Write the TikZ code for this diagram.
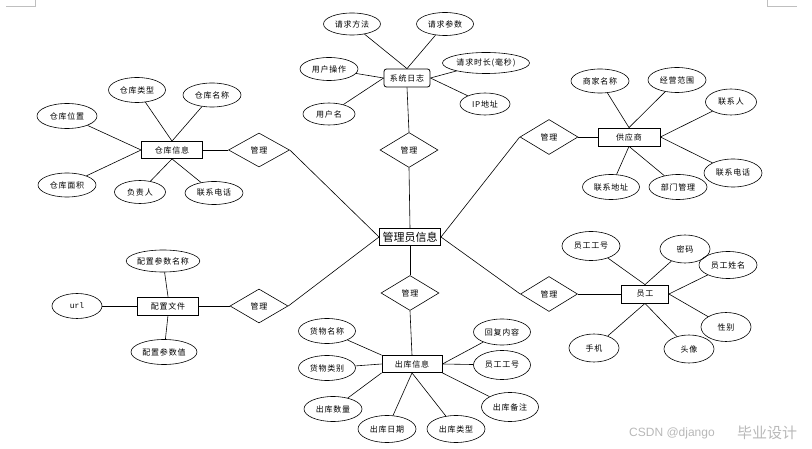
\documentclass[tikz,border=0pt]{standalone}
\usepackage{fontspec}
\setmainfont{Liberation Sans}
\newfontfamily\cjk{Noto Sans CJK SC}
\newfontfamily\cjksp[LetterSpace=10]{Noto Sans CJK SC}
\newfontfamily\monof{Liberation Mono}
\usetikzlibrary{shapes.geometric}
\tikzset{
  attr/.style 2 args={ellipse, draw, line width=0.6pt, inner sep=0pt,
    minimum width=#1, minimum height=#2, font=\cjksp\fontsize{8}{9}\selectfont},
  ent/.style={rectangle, draw, line width=0.8pt, inner sep=0pt,
    minimum width=61, minimum height=17, font=\cjksp\fontsize{8}{9}\selectfont},
  rel/.style={diamond, draw, line width=0.6pt, inner sep=0pt, aspect=1.66,
    minimum width=58, minimum height=35, font=\cjksp\fontsize{8}{9}\selectfont},
  conn/.style={draw, line width=0.6pt},
  cornermark/.style={draw=black!25, line width=0.6pt},
  wm/.style={text=black!28, inner sep=0pt}
}
\begin{document}
\begin{tikzpicture}[x=1pt,y=-1pt]
\useasboundingbox (0,0) rectangle (812,449);
% corner marks
\coordinate (cl1) at (6,6.5); \coordinate (cl2) at (35,6.5); \coordinate (cl3) at (35,0);
\draw[cornermark] (cl1) -- (cl2) -- (cl3);
\coordinate (cr1) at (797,6.5); \coordinate (cr2) at (767,6.5); \coordinate (cr3) at (767,0);
\draw[cornermark] (cr1) -- (cr2) -- (cr3);

% central entity
\node[ent, minimum width=61, minimum height=17, line width=1pt, font=\cjk\fontsize{11}{12}\selectfont] (admin) at (410,237) {管理员信息};

% system log
\node[ent, rounded corners=2.5pt, minimum width=46, minimum height=18] (log) at (407,78) {系统日志};
\node[attr={57}{22}] (lm) at (352,24) {请求方法};
\node[attr={57}{23}] (lp) at (445,24) {请求参数};
\node[attr={87}{21}] (lt) at (486,63) {请求时长(毫秒)};
\node[attr={58}{23}] (lo) at (329,69) {用户操作};
\node[attr={50}{22}] (lip) at (485,104) {IP地址};
\node[attr={52}{22}] (lu) at (329,114) {用户名};
\node[rel] (dlog) at (409,150) {管理};
\draw[conn] (lm) -- (log.north);
\draw[conn] (lp) -- (log.north);
\draw[conn] (lo) -- (log.west);
\draw[conn] (lu) -- (log.west);
\draw[conn] (lt) -- (log.east);
\draw[conn] (lip) -- (log.east);
\draw[conn] (log.south) -- (dlog.north);
\draw[conn] (dlog.south) -- (admin.north);

% warehouse
\node[ent] (wh) at (172,150) {仓库信息};
\node[attr={57}{25}] (wtype) at (137,90) {仓库类型};
\node[attr={58}{24}] (wname) at (212,95) {仓库名称};
\node[attr={60}{25}] (wpos) at (67,116) {仓库位置};
\node[attr={58}{24}] (warea) at (67,185) {仓库面积};
\node[attr={51}{23}] (wresp) at (140,192) {负责人};
\node[attr={58}{23}] (wtel) at (214,193) {联系电话};
\node[rel, minimum width=61, minimum height=34] (dw) at (259,150) {管理};
\draw[conn] (wtype) -- (wh.north);
\draw[conn] (wname) -- (wh.north);
\draw[conn] (wpos) -- (wh.west);
\draw[conn] (warea) -- (wh.west);
\draw[conn] (wresp) -- (wh.south);
\draw[conn] (wtel) -- (wh.south);
\draw[conn] (wh.east) -- (dw.west);
\draw[conn] (dw.east) -- (admin.west);

% supplier
\node[ent, minimum width=62, minimum height=18] (sup) at (629,137) {供应商};
\node[attr={58}{24}] (sname) at (600,81) {商家名称};
\node[attr={58}{25}] (srange) at (677,80) {经营范围};
\node[attr={51}{26}] (scont) at (731,102) {联系人};
\node[attr={58}{28}] (stel) at (733,173) {联系电话};
\node[attr={57}{25}] (saddr) at (611,187) {联系地址};
\node[attr={58}{25}] (sdept) at (678,187) {部门管理};
\node[rel] (ds) at (549,137) {管理};
\draw[conn] (sname) -- (sup.north);
\draw[conn] (srange) -- (sup.north);
\draw[conn] (scont) -- (sup.east);
\draw[conn] (stel) -- (sup.east);
\draw[conn] (saddr) -- (sup.south);
\draw[conn] (sdept) -- (sup.south);
\draw[conn] (ds.east) -- (sup.west);
\draw[conn] (admin.east) -- (ds.west);

% config file
\node[ent, minimum height=18] (cfg) at (168,306) {配置文件};
\node[attr={50}{25}, font=\monof\fontsize{8}{9}\selectfont] (url) at (77,306) {url};
\node[attr={68}{22}] (pname) at (163,261) {配置参数名称};
\node[attr={66}{25}] (pval) at (164,352) {配置参数值};
\node[rel, minimum height=34] (dc) at (259,306) {管理};
\draw[conn] (url) -- (cfg.west);
\draw[conn] (pname) -- (cfg.north);
\draw[conn] (pval) -- (cfg.south);
\draw[conn] (cfg.east) -- (dc.west);
\draw[conn] (dc.east) -- (admin.west);

% outbound
\node[ent, minimum width=60] (out) at (412,364) {出库信息};
\node[rel] (dout) at (410,293) {管理};
\node[attr={57}{25}] (gname) at (327,331) {货物名称};
\node[attr={57}{25}] (gcat) at (327,368) {货物类别};
\node[attr={58}{25}] (onum) at (333,409) {出库数量};
\node[attr={58}{27}] (odate) at (387,429) {出库日期};
\node[attr={58}{27}] (otype) at (456,429) {出库类型};
\node[attr={57}{29}] (onote) at (510,407) {出库备注};
\node[attr={57}{29}] (oemp) at (502,365) {员工工号};
\node[attr={57}{26}] (oreply) at (502,332) {回复内容};
\draw[conn] (admin.south) -- (dout.north);
\draw[conn] (dout.south) -- (out.north);
\draw[conn] (gname) -- (out.north west);
\draw[conn] (gcat) -- (out.west);
\draw[conn] (onum) -- (out.south west);
\draw[conn] (odate) -- (out.south);
\draw[conn] (otype) -- (out.south);
\draw[conn] (onote) -- (out.south east);
\draw[conn] (oemp) -- (out.east);
\draw[conn] (oreply) -- (out.east);

% employee
\node[ent, minimum width=47, minimum height=18] (emp) at (645,294) {员工};
\node[rel, minimum width=57] (de) at (549,294) {管理};
\node[attr={58}{29}] (eid) at (591,246) {员工工号};
\node[attr={50}{28}] (epw) at (685,249) {密码};
\node[attr={58}{27}] (ename) at (728,265) {员工姓名};
\node[attr={50}{29}] (esex) at (726,327) {性别};
\node[attr={50}{28}] (eava) at (689,349) {头像};
\node[attr={50}{28}] (etel) at (594,348) {手机};
\draw[conn] (eid) -- (emp.north);
\draw[conn] (epw) -- (emp.north);
\draw[conn] (ename) -- (emp.east);
\draw[conn] (esex) -- (emp.east);
\draw[conn] (eava) -- (emp.south);
\draw[conn] (etel) -- (emp.south);
\draw[conn] (de.east) -- (emp.west);
\draw[conn] (admin.east) -- (de.west);

% watermark
\node[wm, font=\fontsize{12}{13}\selectfont] (wm1) at (672,433) {CSDN @django};
\node[wm, font=\cjk\fontsize{15}{16}\selectfont] (wm2) at (767,433) {毕业设计};
\end{tikzpicture}
\end{document}
